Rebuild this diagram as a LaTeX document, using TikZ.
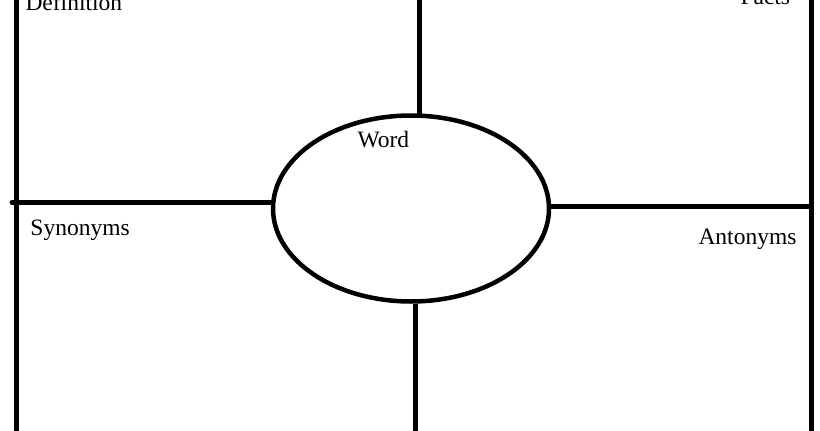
\documentclass[tikz,border=0pt]{standalone}
\usepackage{fontspec}
\setmainfont{Liberation Serif}
\usepackage{tikz}
\usetikzlibrary{shapes.geometric}

\begin{document}
\begin{tikzpicture}[x=1pt, y=-1pt, line width=5pt]
    % Define styles
    \tikzstyle{wordoval} = [ellipse, draw=black, line width=4.5pt, minimum width=276pt, minimum height=186pt, inner sep=0pt]
    \tikzstyle{caption} = [anchor=base west, inner sep=0pt, font=\fontsize{23.5}{28}\selectfont]
    \tikzstyle{frame} = [draw=black, line width=5pt]

    \useasboundingbox (0,0) rectangle (820,431);

    % Centre oval
    \node [wordoval] (word) at (411,208.5) {};
    \node [caption] (word_text) at (355,147) {Word};

    % Free ends of the lines
    \coordinate (left_top) at (16.5,-5);
    \coordinate (left_bottom) at (16.5,436);
    \coordinate (right_top) at (811,-5);
    \coordinate (right_bottom) at (811,436);
    \coordinate (top_end) at (419,-5);
    \coordinate (bottom_end) at (415,436);
    \coordinate (left_end) at (12,202.5);
    \coordinate (right_end) at (811,206);

    % Frame lines
    \draw [frame] (left_top) -- (left_bottom);
    \draw [frame] (right_top) -- (right_bottom);
    \draw [frame] (top_end) -- ([yshift=-4pt]top_end |- word.north);
    \draw [frame] (word.south -| bottom_end) -- (bottom_end);
    \draw [frame, line cap=round] (left_end) -- (left_end -| word.west);
    \draw [frame] (word.east |- right_end) -- (right_end);

    % Corner labels
    \node [caption] (definition) at (23,10) {Definition};
    \node [caption] (facts) at (738,5) {Facts};
    \node [caption] (synonyms) at (28,235) {Synonyms};
    \node [caption] (antonyms) at (696,244) {Antonyms};
\end{tikzpicture}
\end{document}
